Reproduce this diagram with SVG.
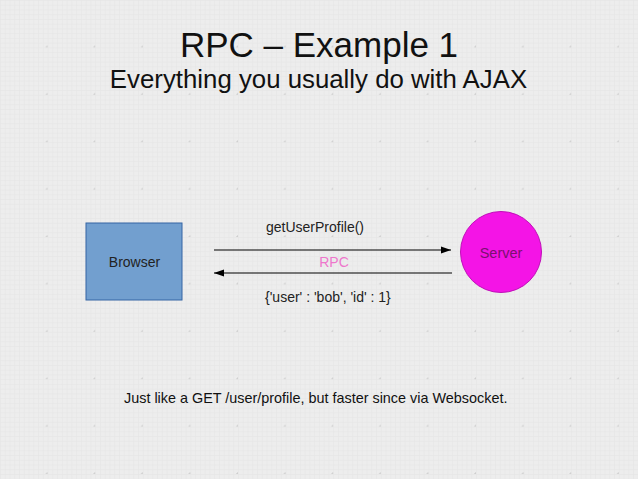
<svg xmlns="http://www.w3.org/2000/svg" width="638" height="479" viewBox="0 0 638 479">
<defs>
<pattern id="grid" x="0" y="0" width="47.6" height="47.4" patternUnits="userSpaceOnUse">
<path d="M45.6 47.4h4M47.6 45.4v4" stroke="#c4c4c4" stroke-width="1"/>
</pattern>
<pattern id="fine" x="0" y="0" width="4.76" height="4.74" patternUnits="userSpaceOnUse">
<path d="M0 0.5h4.76M0.5 0v4.74" stroke="#e4e4e4" stroke-width="0.6"/>
</pattern>
<marker id="ah" viewBox="0 0 10 10" refX="10" refY="5" markerWidth="10" markerHeight="10" markerUnits="userSpaceOnUse" orient="auto">
<path d="M0 1.5L10 5L0 8.5z" fill="#000"/>
</marker>
<style>
text{font-family:"Liberation Sans",Arial,sans-serif;}
.lbl{font-size:14px;fill:#222;}
.conn{stroke:#000;stroke-width:1.2;fill:none;}
</style>
</defs>
<rect width="638" height="479" fill="#ededed"/>
<rect width="638" height="479" fill="url(#fine)"/>
<rect width="638" height="479" fill="url(#grid)"/>
<g id="title">
<text x="319" y="57" font-size="35" text-anchor="middle" fill="#111">RPC – Example 1</text>
<text x="318.5" y="88" font-size="25.8" text-anchor="middle" fill="#111">Everything you usually do with AJAX</text>
</g>
<g id="browser">
<rect x="86" y="223" width="96" height="77" fill="#729fcf" stroke="#3465a4" stroke-width="1"/>
<text x="134.5" y="267" class="lbl" text-anchor="middle" fill="#1c2a3a">Browser</text>
</g>
<g id="server">
<circle cx="501" cy="252" r="40.5" fill="#f414e6" stroke="#c010b8" stroke-width="1"/>
<text x="501" y="258" font-size="14.5" text-anchor="middle" fill="#7a1070">Server</text>
</g>
<g id="connectors">
<line class="conn" x1="214" y1="250" x2="451" y2="250" marker-end="url(#ah)"/>
<line class="conn" x1="452" y1="273" x2="214" y2="273" marker-end="url(#ah)"/>
<text x="266" y="232" class="lbl">getUserProfile()</text>
<text x="334" y="267" font-size="14" text-anchor="middle" fill="#ee77cc">RPC</text>
<text x="265" y="302" class="lbl">{'user' : 'bob', 'id' : 1}</text>
</g>
<g id="note">
<text x="124" y="403" font-size="14.4" fill="#111">Just like a GET /user/profile, but faster since via Websocket.</text>
</g>
</svg>
